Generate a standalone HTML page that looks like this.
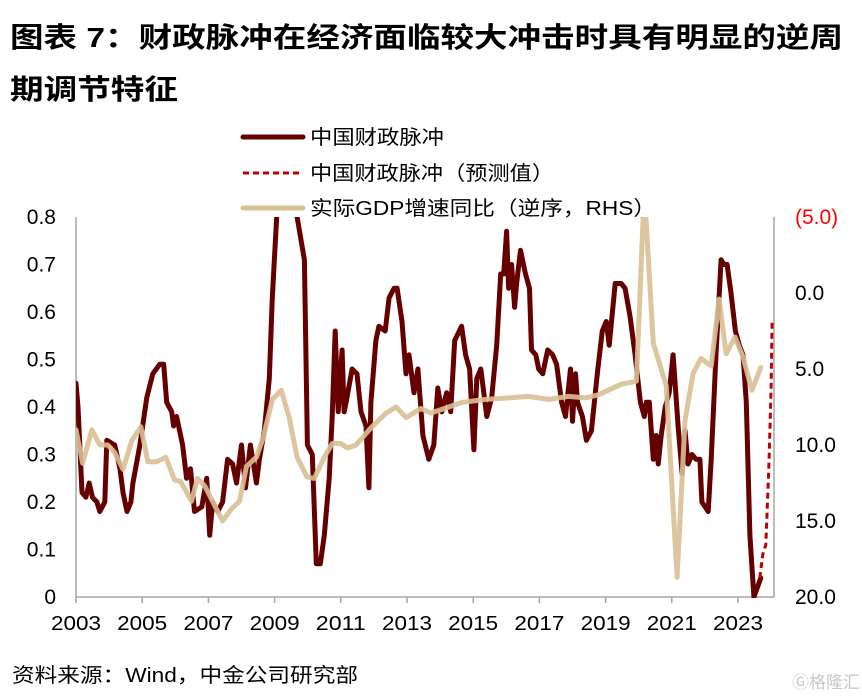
<!DOCTYPE html>
<html><head><meta charset="utf-8"><style>
html,body{margin:0;padding:0;background:#fff;}
svg{display:block;font-family:"Liberation Sans","Noto Sans CJK SC",sans-serif;}
</style></head><body>
<svg id="chart" width="862" height="699" viewBox="0 0 862 699">
<defs><clipPath id="plotclip"><rect x="76" y="217" width="698" height="381"/></clipPath></defs>
<text x="10" y="47" font-size="28" font-weight="bold" textLength="833" lengthAdjust="spacingAndGlyphs">图表 7：财政脉冲在经济面临较大冲击时具有明显的逆周</text>
<text x="10" y="99" font-size="28" font-weight="bold" textLength="168" lengthAdjust="spacingAndGlyphs">期调节特征</text>
<g>
<line x1="243" y1="137" x2="303" y2="137" stroke="#660000" stroke-width="5" stroke-linecap="round"/>
<text x="310" y="144" font-size="20" textLength="134" lengthAdjust="spacingAndGlyphs">中国财政脉冲</text>
<line x1="243" y1="173" x2="303" y2="173" stroke="#C00000" stroke-width="3" stroke-dasharray="6,4"/>
<text x="310" y="180" font-size="20" textLength="244" lengthAdjust="spacingAndGlyphs">中国财政脉冲（预测值）</text>
<line x1="243" y1="208" x2="303" y2="208" stroke="#D9BF96" stroke-width="5" stroke-linecap="round"/>
<text x="310" y="215" font-size="20" textLength="346" lengthAdjust="spacingAndGlyphs">实际GDP增速同比（逆序，RHS）</text>
</g>
<g id="axes"></g>
<g id="series" clip-path="url(#plotclip)"></g>
<text x="12" y="682" font-size="20" textLength="346" lengthAdjust="spacingAndGlyphs">资料来源：Wind，中金公司研究部</text>
<text x="792" y="688" font-size="17" fill="#c8c8c8">Ⓖ格隆汇</text>
</svg>
<script>
const yearTicks=[2003,2005,2007,2009,2011,2013,2015,2017,2019,2021,2023];
const leftTicks=[0,0.1,0.2,0.3,0.4,0.5,0.6,0.7,0.8];
const leftTickLabels=["0","0.1","0.2","0.3","0.4","0.5","0.6","0.7","0.8"];
const rightTicks=[-5,0,5,10,15,20];
const rightTickLabels=["(5.0)","0.0","5.0","10.0","15.0","20.0"];
const pulseT=[2003.0,2003.06,2003.18,2003.3,2003.4,2003.5,2003.63,2003.72,2003.87,2003.93,2004.17,2004.33,2004.42,2004.54,2004.66,2004.72,2004.93,2005.14,2005.32,2005.53,2005.65,2005.74,2005.89,2005.95,2006.04,2006.22,2006.34,2006.46,2006.58,2006.8,2006.95,2007.04,2007.13,2007.28,2007.43,2007.58,2007.73,2007.85,2008.0,2008.12,2008.27,2008.45,2008.54,2008.69,2008.84,2008.93,2009.08,2009.25,2009.5,2009.68,2009.9,2009.99,2010.14,2010.26,2010.38,2010.5,2010.65,2010.74,2010.83,2010.92,2011.04,2011.1,2011.16,2011.34,2011.49,2011.61,2011.76,2011.85,2011.91,2012.06,2012.15,2012.34,2012.46,2012.61,2012.7,2012.85,2012.97,2013.06,2013.21,2013.33,2013.48,2013.66,2013.81,2013.93,2014.05,2014.2,2014.32,2014.44,2014.65,2014.77,2014.89,2015.02,2015.11,2015.23,2015.41,2015.56,2015.71,2015.83,2015.92,2016.01,2016.07,2016.16,2016.25,2016.31,2016.43,2016.58,2016.7,2016.76,2016.89,2016.98,2017.1,2017.25,2017.4,2017.52,2017.67,2017.79,2017.94,2018.0,2018.09,2018.15,2018.3,2018.42,2018.57,2018.75,2018.9,2019.02,2019.11,2019.29,2019.47,2019.59,2019.74,2019.89,2020.05,2020.17,2020.23,2020.32,2020.44,2020.53,2020.59,2020.68,2020.8,2020.92,2021.04,2021.19,2021.31,2021.4,2021.49,2021.61,2021.73,2021.85,2021.91,2022.1,2022.19,2022.34,2022.49,2022.58,2022.67,2022.79,2022.92,2023.04,2023.15,2023.25,2023.36,2023.48,2023.69];
const pulseV=[0.45,0.40,0.22,0.21,0.24,0.21,0.20,0.18,0.20,0.33,0.32,0.27,0.22,0.18,0.20,0.24,0.32,0.42,0.47,0.49,0.49,0.41,0.39,0.36,0.38,0.32,0.25,0.27,0.18,0.19,0.25,0.13,0.20,0.18,0.20,0.29,0.28,0.24,0.32,0.23,0.32,0.24,0.29,0.35,0.46,0.63,0.82,0.95,0.95,0.80,0.71,0.32,0.30,0.07,0.07,0.13,0.25,0.38,0.56,0.39,0.52,0.39,0.41,0.48,0.47,0.39,0.36,0.23,0.41,0.54,0.57,0.56,0.63,0.65,0.65,0.58,0.47,0.51,0.43,0.48,0.34,0.29,0.32,0.44,0.39,0.43,0.39,0.54,0.57,0.51,0.48,0.31,0.46,0.48,0.38,0.42,0.53,0.68,0.68,0.77,0.65,0.70,0.61,0.66,0.73,0.68,0.65,0.52,0.51,0.48,0.47,0.52,0.51,0.49,0.41,0.38,0.48,0.37,0.47,0.41,0.38,0.33,0.35,0.47,0.56,0.58,0.53,0.66,0.66,0.65,0.59,0.51,0.41,0.38,0.41,0.41,0.29,0.34,0.28,0.34,0.40,0.43,0.51,0.36,0.26,0.35,0.28,0.30,0.29,0.29,0.20,0.18,0.29,0.52,0.71,0.70,0.70,0.64,0.56,0.53,0.51,0.41,0.13,0.0,0.04];
const forecastT=[2023.66,2023.75,2023.84,2023.93,2024.0,2024.03];
const forecastV=[0.04,0.09,0.11,0.27,0.44,0.58];
const gdpT=[2003.0,2003.2,2003.48,2003.72,2003.96,2004.17,2004.42,2004.69,2004.96,2005.17,2005.44,2005.71,2005.98,2006.16,2006.49,2006.67,2006.89,2007.43,2007.7,2007.94,2008.15,2008.45,2008.66,2008.93,2009.2,2009.44,2009.68,2009.98,2010.2,2010.5,2010.74,2011.0,2011.2,2011.46,2011.94,2012.37,2012.67,2012.97,2013.42,2013.72,2014.26,2014.66,2015.38,2016.07,2016.67,2017.28,2017.88,2018.39,2018.78,2019.48,2019.93,2020.17,2020.44,2020.83,2021.16,2021.4,2021.64,2021.88,2022.19,2022.43,2022.64,2022.91,2023.15,2023.42,2023.69];
const gdpV=[9.0,11.2,9.0,10.0,10.0,10.5,11.6,9.7,8.8,11.1,11.1,10.8,12.3,12.4,13.7,12.2,12.7,15.0,14.2,13.7,11.4,10.8,9.5,7.0,6.4,8.2,10.8,12.1,12.2,10.8,9.9,9.9,10.2,10.0,8.8,7.9,7.5,8.2,7.6,7.9,7.5,7.2,7.0,6.9,6.8,7.0,6.8,6.9,6.7,6.0,5.8,-6.8,3.3,6.1,18.7,8.4,5.3,4.3,4.8,0.4,4.0,2.9,4.2,6.4,4.9];

const X0=76,XR=774,YB=597,YT=217;
const xs=t=>X0+(t-2003)*33.1;
const yl=v=>YB-(v/0.8)*(YB-YT);
const yr=v=>YT+((v+5)/25)*(YB-YT);
const NS="http://www.w3.org/2000/svg";
const axes=document.getElementById('axes');
const series=document.getElementById('series');
function mk(tag,attrs,parent){const e=document.createElementNS(NS,tag);for(const k in attrs)e.setAttribute(k,attrs[k]);parent.appendChild(e);return e;}

let e=mk('line',{x1:X0,y1:YT,x2:X0,y2:YB,stroke:'#a6a6a6','stroke-width':1.5},axes);


e=mk('line',{x1:XR,y1:YT,x2:XR,y2:YB,stroke:'#a6a6a6','stroke-width':1.5},axes);


e=mk('line',{x1:X0,y1:YB,x2:XR,y2:YB,stroke:'#a6a6a6','stroke-width':1.5},axes);


yearTicks.forEach(y=>{
  const x=xs(y);
  let t=mk('line',{x1:x,y1:YB,x2:x,y2:YB+6,stroke:'#a6a6a6','stroke-width':1.5},axes);
  
  
  let l=mk('text',{x:x,y:YB+33,'font-size':20,'text-anchor':'middle',textLength:50,lengthAdjust:'spacingAndGlyphs'},axes);
  l.textContent=String(y);
  
  
});
leftTicks.forEach((v,i)=>{
  let l=mk('text',{x:56,y:yl(v)+7,'font-size':21,'text-anchor':'end'},axes);
  l.textContent=leftTickLabels[i];
  
  
});
rightTicks.forEach((v,i)=>{
  let l=mk('text',{x:795,y:yr(v)+7,'font-size':21,fill:i===0?'#ff0000':'#000'},axes);
  l.textContent=rightTickLabels[i];
  
  
});
function pts(T,V,f){return T.map((t,i)=>xs(t).toFixed(1)+','+f(V[i]).toFixed(1)).join(' ');}
let p=mk('polyline',{points:pts(pulseT,pulseV,yl),fill:'none',stroke:'#660000','stroke-width':5,'stroke-linejoin':'round','stroke-linecap':'round'},series);


p=mk('polyline',{points:pts(forecastT,forecastV,yl),fill:'none',stroke:'#C00000','stroke-width':3,'stroke-dasharray':'6,4'},series);


p=mk('polyline',{points:pts(gdpT,gdpV,yr),fill:'none',stroke:'#D9BF96','stroke-width':5,'stroke-linejoin':'round','stroke-linecap':'round',opacity:0.9},series);


</script>
</body></html>
